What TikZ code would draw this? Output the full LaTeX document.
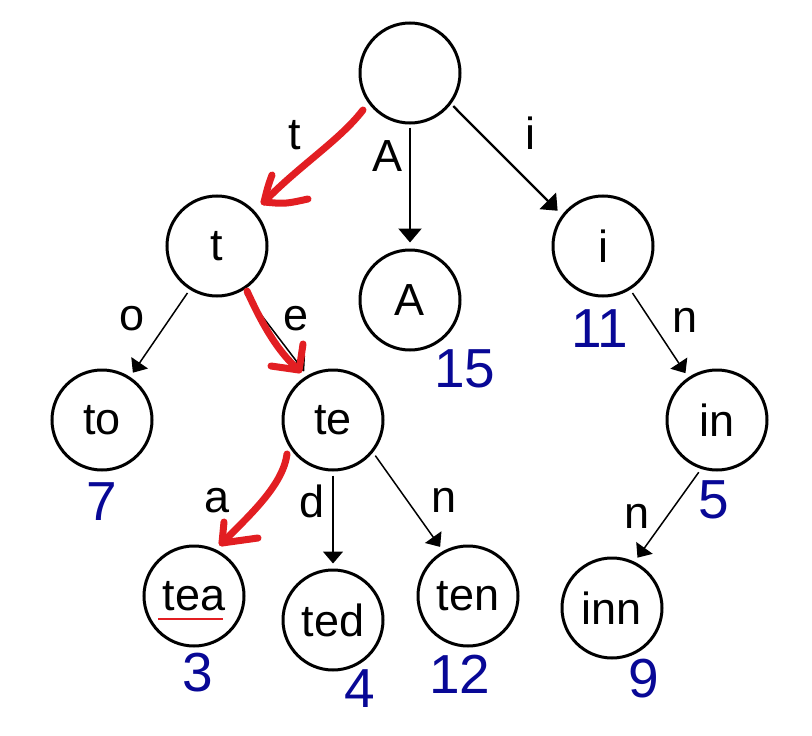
\documentclass[tikz,border=0pt]{standalone}
\usepackage{fontspec}
\setmainfont{Liberation Sans}
\usetikzlibrary{arrows.meta}
\definecolor{numblue}{RGB}{8,8,150}
\definecolor{hlred}{RGB}{226,30,34}
\begin{document}
\begin{tikzpicture}[x=1pt,y=-1pt,
  trie/.style={circle, draw, line width=3pt, minimum size=100pt, inner sep=0pt, font=\fontsize{45}{54}\selectfont},
  lbl/.style={font=\fontsize{45}{54}\selectfont, inner sep=0pt, anchor=base},
  num/.style={font=\fontsize{55}{66}\selectfont, text=numblue, inner sep=0pt, anchor=base},
  edge/.style={line width=1.5pt, -{Triangle[length=12pt,width=20pt]}, shorten <=4pt, shorten >=5pt},
  bigedge/.style={line width=2.3pt, -{Triangle[length=14pt,width=23pt]}, shorten <=3pt, shorten >=6pt},
  hl/.style={draw=hlred, line width=7pt, line cap=round, line join=round},
  ul/.style={draw=hlred, line width=2pt}]
\useasboundingbox (0,0) rectangle (812,736);
% nodes
\node[trie] (nroot) at (410,73) {};
\node[trie] (nt) at (217,246) {t};
\node[trie] (nA) at (410,300) {A};
\node[trie] (ni) at (603,246) {i};
\node[trie] (nto) at (102,420) {to};
\node[trie] (nte) at (333,420) {te};
\node[trie] (nin) at (717,420) {in};
\node[trie] (ntea) at (194,596) {tea};
\node[trie] (nted) at (333,620) {ted};
\node[trie] (nten) at (468,596) {ten};
\node[trie] (ninn) at (612,608) {inn};
% black connectors
\draw[bigedge] (nroot) -- (nA);
\draw[bigedge] (nroot.-37) -- (ni.143);
\draw[edge] (nt.-122) -- (nto.57);
\draw[edge] (nt.-60) -- (nte.120);
\draw[edge] (nte) -- (nted);
\draw[edge] (nte.-39) -- (nten.119);
\draw[edge] (ni.-58) -- (nin.124);
\draw[edge] (nin.-108) -- (ninn.64);
% edge labels
\node[lbl] (lt) at (295,149) {t};
\node[lbl] (lA) at (388,171) {A};
\node[lbl] (li) at (530,149) {i};
\node[lbl] (lo) at (132,330) {o};
\node[lbl] (le) at (296,330) {e};
\node[lbl] (la) at (217,512) {a};
\node[lbl] (ld) at (312,517) {d};
\node[lbl] (ln1) at (444,512) {n};
\node[lbl] (ln2) at (685,332) {n};
\node[lbl] (ln3) at (637,528) {n};
% numbers
\node[num] (c7) at (102,520) {7};
\node[num] (c15) at (465,387) {15};
\node[num] (c3) at (198,691) {3};
\node[num] (c4) at (360,707) {4};
\node[num] (c12) at (460,693) {12};
\node[num] (c11) at (600,347) {11};
\node[num] (c5) at (714,518) {5};
\node[num] (c9) at (644,697) {9};
% underline of tea
\draw[ul] (158,619) -- (223,619);
% red highlight arrows
\coordinate (r1s) at (363,110);
\coordinate (r1e) at (264,202);
\draw[hl] (r1s) .. controls (340,140) and (300,165) .. (r1e);
\draw[hl] (272,175) .. controls (268,186) .. (r1e) .. controls (285,204) .. (308,199);
\coordinate (r2s) at (247,291);
\coordinate (r2e) at (299,370);
\draw[hl] (r2s) .. controls (258,315) and (275,350) .. (r2e);
\draw[hl] (303,344) .. controls (301,358) .. (r2e) -- (271,366);
\coordinate (r3s) at (287,454);
\coordinate (r3e) at (222,543);
\draw[hl] (r3s) .. controls (283,485) and (250,515) .. (r3e);
\draw[hl] (224,522) -- (r3e) .. controls (240,541) .. (258,538);
\end{tikzpicture}
\end{document}
